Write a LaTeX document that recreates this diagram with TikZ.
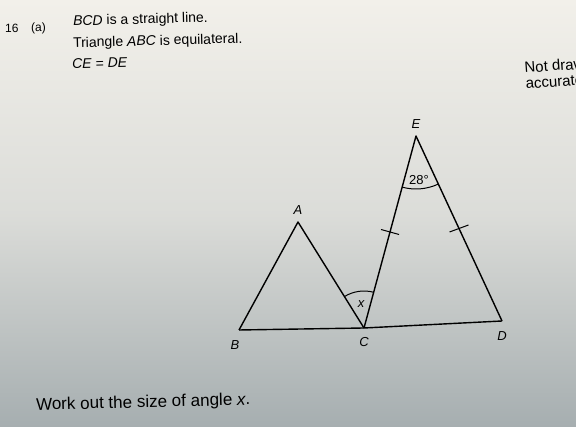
\documentclass[tikz,border=0pt]{standalone}
\usepackage{fontspec}
\setmainfont{Liberation Sans}
\usetikzlibrary{angles,calc}
\definecolor{paperTop}{RGB}{242,240,234}
\definecolor{paperBot}{RGB}{166,174,176}
\begin{document}
\begin{tikzpicture}[x=1pt,y=1pt,
  lbl/.style={font=\fontsize{13}{15}\selectfont\itshape},
  txt/.style={font=\fontsize{14}{16}\selectfont,anchor=west,inner sep=0pt}]
\useasboundingbox (0,0) rectangle (576,427);
\clip (0,0) rectangle (576,427);
\shade[top color=paperTop,bottom color=paperBot,middle color=paperTop!70!paperBot] (0,0) rectangle (576,427);

% question text
\node [txt,font=\fontsize{12}{14}\selectfont] (num) at (5,399) {16};
\node [txt,font=\fontsize{12}{14}\selectfont] (part) at (31,399) {(a)};
\node [txt,rotate=1.5] (t1) at (73,405) {\textit{BCD} is a straight line.};
\node [txt,rotate=1.5] (t2) at (73,383) {Triangle \textit{ABC} is equilateral.};
\node [txt,rotate=1.5] (t3) at (72,363) {\textit{CE} = \textit{DE}};
\node [txt,font=\fontsize{15}{16}\selectfont,rotate=4,align=left] (nda) at (525,350) {Not drawn\\accurately};
\node [txt,font=\fontsize{17}{19}\selectfont,rotate=1.5] (work) at (36,21) {Work out the size of angle \textit{x}.};

% figure
\coordinate (A) at (298,205);
\coordinate (B) at (239,97);
\coordinate (C) at (364,99);
\coordinate (D) at (502,106);
\coordinate (E) at (416,291);
\begin{scope}[line width=1.4pt,line join=round]
  \draw (B) -- (A) -- (C);
  \draw (B) -- (C) -- (D);
  \draw (C) -- (E) -- (D);
  \pic [draw,line width=1pt,angle radius=53pt] {angle = C--E--D};
  \pic [draw,line width=1pt,angle radius=37pt] {angle = E--C--A};
  \draw [line width=1pt] ($(C)!0.5!(E)$) ++(-9,2.5) -- ++(18,-5);
  \draw [line width=1pt] ($(D)!0.5!(E)$) ++(-9.5,-3.5) -- ++(19,7);
\end{scope}

\node [lbl] (lA) at (298,217) {A};
\node [lbl] (lB) at (235,82) {B};
\node [lbl] (lC) at (364,85) {C};
\node [lbl] (lD) at (502,91) {D};
\node [lbl] (lE) at (416,303) {E};
\node [font=\fontsize{13}{15}\selectfont] (ang) at (419,247) {28\textdegree};
\node [lbl] (lx) at (361,123) {x};
\end{tikzpicture}
\end{document}
